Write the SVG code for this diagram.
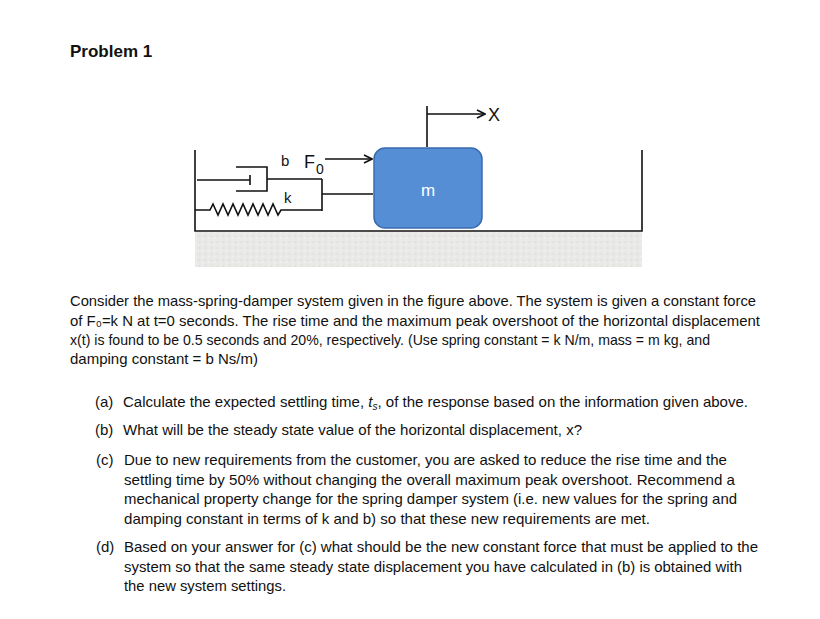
<svg xmlns="http://www.w3.org/2000/svg" width="820" height="619" viewBox="0 0 820 619">
<defs>
<style>
.t{font-family:"Liberation Sans",Arial,sans-serif;font-size:15px;fill:#111}
.ln{stroke:#111;stroke-width:1.6;fill:none}
</style>
<marker id="ah" viewBox="0 0 10 10" refX="9" refY="5" markerWidth="10" markerHeight="10" orient="auto" markerUnits="userSpaceOnUse"><path d="M1,1 L9,5 L1,9" fill="none" stroke="#111" stroke-width="1.6"/></marker>
<pattern id="gr" width="6" height="6" patternUnits="userSpaceOnUse"><rect width="6" height="6" fill="#e9e9e7"/><circle cx="1.5" cy="2" r="0.8" fill="#d6d6d3"/><circle cx="4.5" cy="4.5" r="0.7" fill="#f6f6f4"/></pattern>
</defs>
<rect width="820" height="619" fill="#fff"/>
<text x="70" y="57" style="font-family:'Liberation Sans',Arial,sans-serif;font-size:17px;font-weight:bold;fill:#111">Problem 1</text>

<g id="ground"><rect x="195" y="232" width="447" height="35" fill="url(#gr)"/>
<path class="ln" d="M195,150 V231 H642 V150"/></g>
<g id="damper"><path class="ln" d="M197,180 H250 M250,175 V185 M236,167 H267 V191 H236 M267,179 H322"/>
<text x="281" y="166" class="t" style="font-size:15px">b</text></g>
<g id="spring"><path class="ln" d="M195,210 H210 L213,204 L218,215 L223,204 L228,215 L233,204 L238,215 L243,204 L248,215 L253,204 L258,215 L263,204 L268,215 L273,204 L278,215 L281,210 H322"/>
<text x="284" y="203" class="t" style="font-size:15px">k</text></g>
<g id="connectors"><path class="ln" d="M322,179 V211 M322,194 H373"/>
<path class="ln" d="M325,159 H372" marker-end="url(#ah)"/>
<path class="ln" d="M427,147 V106 M427,114 H485" marker-end="url(#ah)"/></g>
<g id="force"><text x="304" y="168" class="t" style="font-size:18px">F</text><text x="316" y="174" class="t" style="font-size:14px">0</text></g>
<g id="xlabel"><text x="488" y="121" class="t" style="font-size:18px">X</text></g>
<g id="mass"><rect x="374" y="148" width="108" height="80" rx="11" fill="#558ed5" stroke="#3a6bb0" stroke-width="1.5"/>
<text x="428" y="196" class="t" text-anchor="middle" style="font-size:17px;fill:#fff">m</text></g>

<g id="text">
<text x="70" y="306" class="t" textLength="686" lengthAdjust="spacingAndGlyphs">Consider the mass-spring-damper system given in the figure above. The system is given a constant force</text>
<text x="70" y="325.5" class="t" textLength="690" lengthAdjust="spacingAndGlyphs">of F₀=k N at t=0 seconds. The rise time and the maximum peak overshoot of the horizontal displacement</text>
<text x="70" y="345" class="t" textLength="640" lengthAdjust="spacingAndGlyphs">x(t) is found to be 0.5 seconds and 20%, respectively. (Use spring constant = k N/m, mass = m kg, and</text>
<text x="70" y="364" class="t" textLength="188" lengthAdjust="spacingAndGlyphs">damping constant = b Ns/m)</text>
<text x="95" y="407" class="t">(a)</text>
<text x="123" y="407" class="t" textLength="625" lengthAdjust="spacingAndGlyphs">Calculate the expected settling time, <tspan font-style="italic">t</tspan><tspan font-style="italic" font-size="10" dy="3">s</tspan><tspan dy="-3">, of the response based on the information given above.</tspan></text>
<text x="95" y="435" class="t">(b)</text>
<text x="123" y="435" class="t" textLength="459" lengthAdjust="spacingAndGlyphs">What will be the steady state value of the horizontal displacement, x?</text>
<text x="96" y="465" class="t">(c)</text>
<text x="124" y="465" class="t" textLength="603" lengthAdjust="spacingAndGlyphs">Due to new requirements from the customer, you are asked to reduce the rise time and the</text>
<text x="124" y="485" class="t" textLength="611" lengthAdjust="spacingAndGlyphs">settling time by 50% without changing the overall maximum peak overshoot. Recommend a</text>
<text x="124" y="504" class="t" textLength="613" lengthAdjust="spacingAndGlyphs">mechanical property change for the spring damper system (i.e. new values for the spring and</text>
<text x="124" y="524" class="t" textLength="526" lengthAdjust="spacingAndGlyphs">damping constant in terms of k and b) so that these new requirements are met.</text>
<text x="96" y="552" class="t">(d)</text>
<text x="124" y="552" class="t" textLength="634" lengthAdjust="spacingAndGlyphs">Based on your answer for (c) what should be the new constant force that must be applied to the</text>
<text x="124" y="572" class="t" textLength="618" lengthAdjust="spacingAndGlyphs">system so that the same steady state displacement you have calculated in (b) is obtained with</text>
<text x="124" y="591" class="t" textLength="162" lengthAdjust="spacingAndGlyphs">the new system settings.</text>
</g>
</svg>
